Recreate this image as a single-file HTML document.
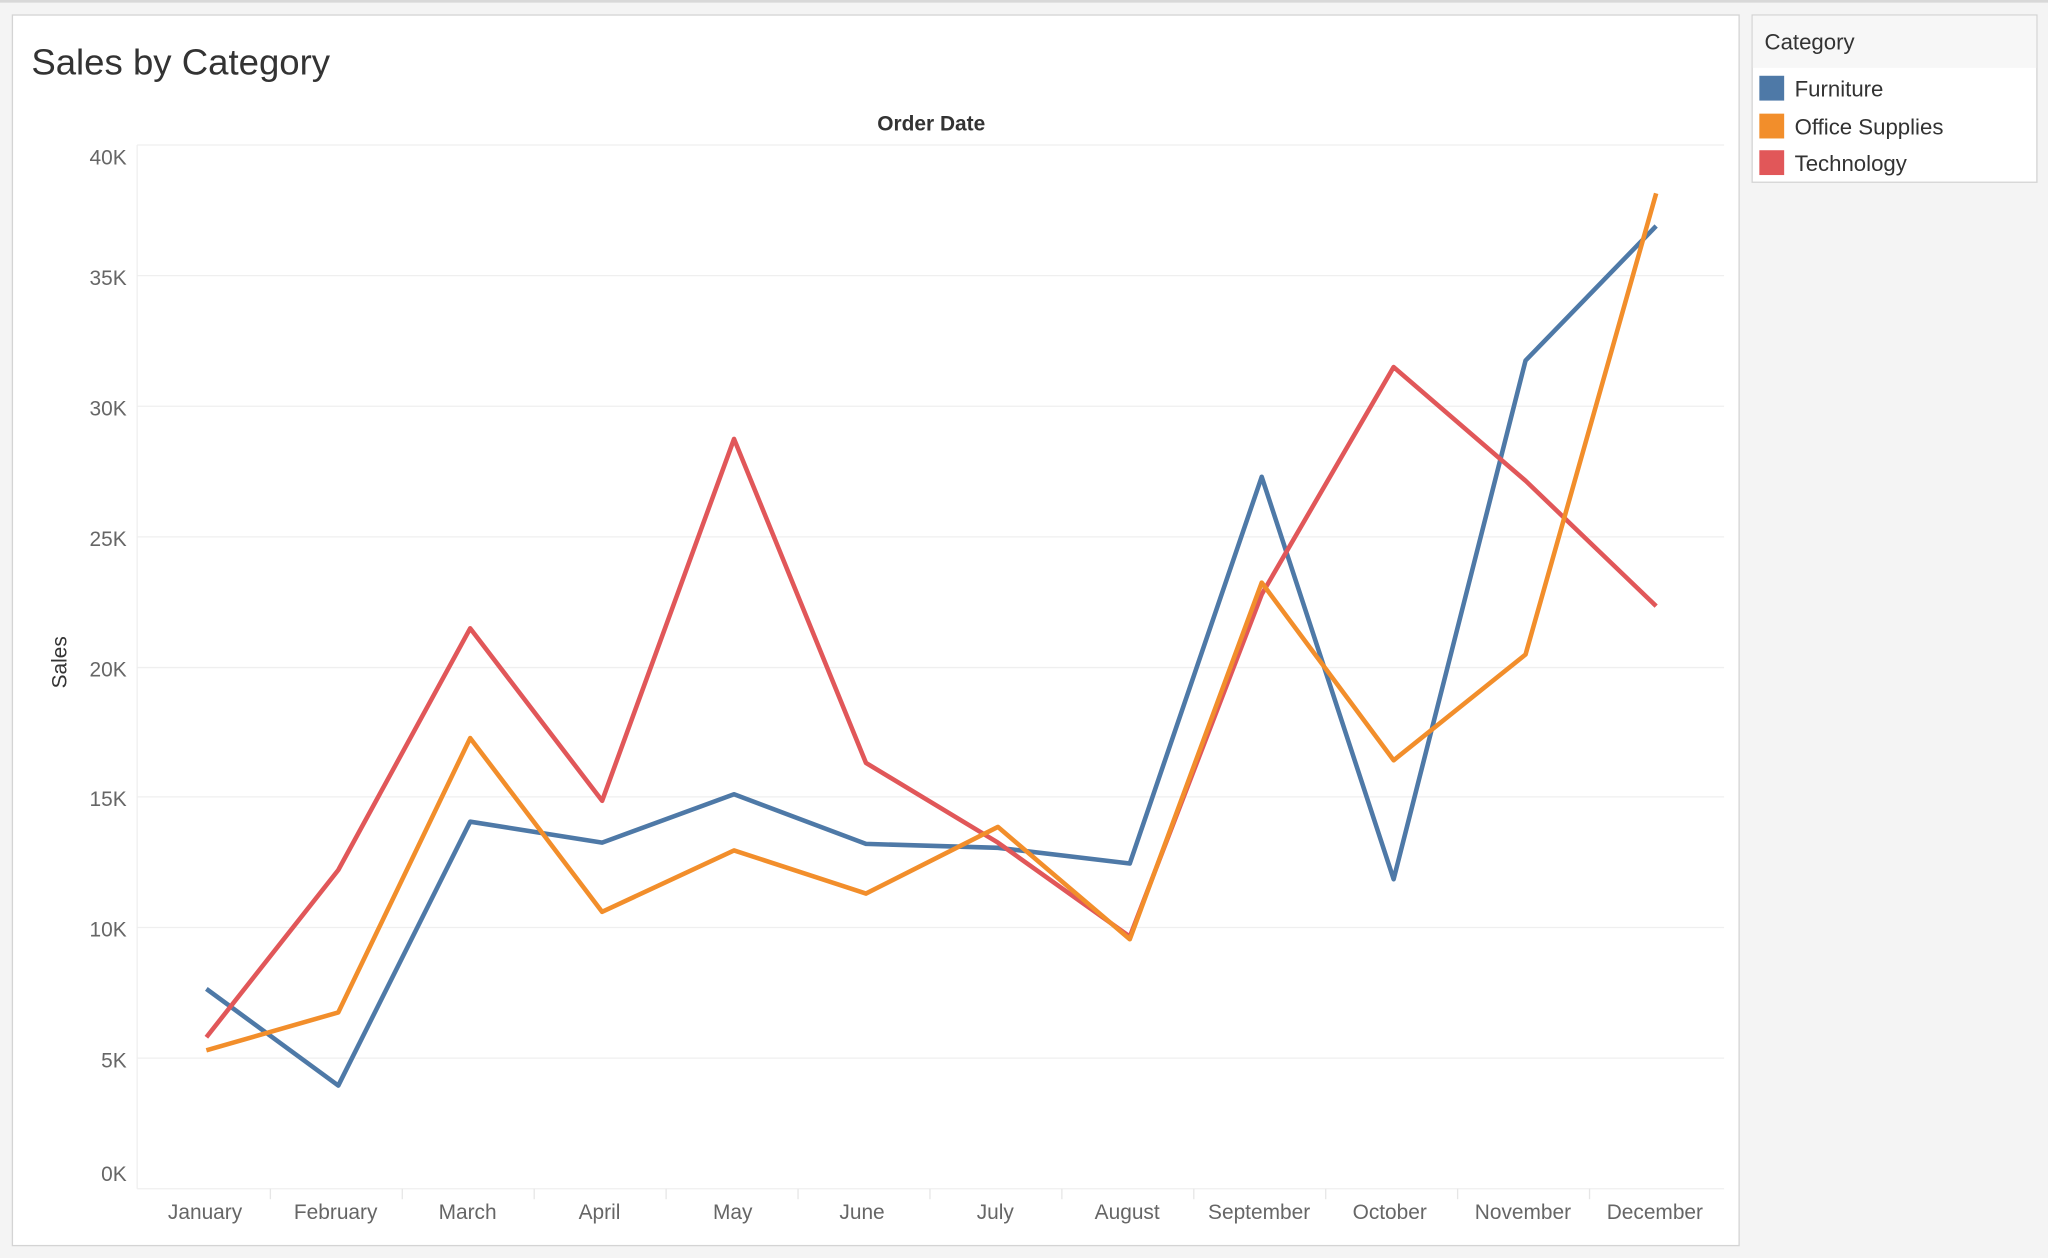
<!DOCTYPE html>
<html><head><meta charset="utf-8"><style>
html,body{margin:0;padding:0;background:#f5f5f5;}
svg{display:block;}
text{font-family:"Liberation Sans",sans-serif;}
</style></head><body>
<svg width="2048" height="1258" viewBox="0 0 1568 963" preserveAspectRatio="none" xmlns="http://www.w3.org/2000/svg">
<rect x="0" y="0" width="1568" height="963" fill="#f4f4f4"/>
<rect x="0" y="0" width="1568" height="2" fill="#d8d8d8"/>
<rect x="9.5" y="11.5" width="1322" height="942" fill="#fff" stroke="#d4d4d4"/>
<rect x="1341.5" y="11.5" width="218" height="128" fill="#fff" stroke="#d4d4d4"/>
<rect x="1342" y="12" width="217" height="40" fill="#f7f7f7"/>
<text x="1351" y="38" font-size="17" fill="#333">Category</text>
<rect x="1347" y="58" width="19" height="19" fill="#4e79a7"/>
<text x="1374" y="74" font-size="17" fill="#333">Furniture</text>
<rect x="1347" y="87" width="19" height="19" fill="#f28e2b"/>
<text x="1374" y="103" font-size="17" fill="#333">Office Supplies</text>
<rect x="1347" y="115" width="19" height="19" fill="#e15759"/>
<text x="1374" y="131" font-size="17" fill="#333">Technology</text>
<text x="24" y="57" font-size="28" fill="#333">Sales by Category</text>
<text x="713" y="100" font-size="16" font-weight="bold" fill="#333" text-anchor="middle">Order Date</text>
<g stroke="#efefef" stroke-width="1">
<line x1="105" y1="111" x2="1320" y2="111"/><line x1="105" y1="211" x2="1320" y2="211"/>
<line x1="105" y1="311" x2="1320" y2="311"/><line x1="105" y1="411" x2="1320" y2="411"/>
<line x1="105" y1="511" x2="1320" y2="511"/><line x1="105" y1="610" x2="1320" y2="610"/>
<line x1="105" y1="710" x2="1320" y2="710"/><line x1="105" y1="810" x2="1320" y2="810"/>
<line x1="105" y1="910" x2="1320" y2="910"/><line x1="105" y1="111" x2="105" y2="910"/>
</g>
<g stroke="#e6e6e6"><line x1="207" y1="910" x2="207" y2="918"/><line x1="308" y1="910" x2="308" y2="918"/><line x1="409" y1="910" x2="409" y2="918"/><line x1="510" y1="910" x2="510" y2="918"/><line x1="611" y1="910" x2="611" y2="918"/><line x1="712" y1="910" x2="712" y2="918"/><line x1="813" y1="910" x2="813" y2="918"/><line x1="914" y1="910" x2="914" y2="918"/><line x1="1015" y1="910" x2="1015" y2="918"/><line x1="1116" y1="910" x2="1116" y2="918"/><line x1="1217" y1="910" x2="1217" y2="918"/></g>
<g font-size="16" fill="#666" text-anchor="end">
<text x="97" y="126">40K</text><text x="97" y="218">35K</text><text x="97" y="318">30K</text>
<text x="97" y="418">25K</text><text x="97" y="518">20K</text><text x="97" y="617">15K</text>
<text x="97" y="717">10K</text><text x="97" y="817">5K</text><text x="97" y="904">0K</text>
</g>
<text transform="translate(51,507) rotate(-90)" font-size="16" fill="#333" text-anchor="middle">Sales</text>
<g font-size="16" fill="#666" text-anchor="middle">
<text x="157" y="933">January</text><text x="257" y="933">February</text><text x="358" y="933">March</text>
<text x="459" y="933">April</text><text x="561" y="933">May</text><text x="660" y="933">June</text>
<text x="762" y="933">July</text><text x="863" y="933">August</text><text x="964" y="933">September</text>
<text x="1064" y="933">October</text><text x="1166" y="933">November</text><text x="1267" y="933">December</text>
</g>
<g fill="none" stroke-width="3.5" stroke-linejoin="round">
<polyline stroke="#4e79a7" points="158,757 259,831 360,629 461,645 562,608 663,646 764,649 865,661 966,365 1067,673 1168,276 1268,173"/>
<polyline stroke="#e15759" points="158,794 259,666 360,481 461,613 562,336 663,584 764,645 865,717 966,455 1067,281 1168,368 1268,464"/>
<polyline stroke="#f28e2b" points="158,804 259,775 360,565 461,698 562,651 663,684 764,633 865,719 966,446 1067,582 1168,501 1268,148"/>
</g>
</svg>
</body></html>
